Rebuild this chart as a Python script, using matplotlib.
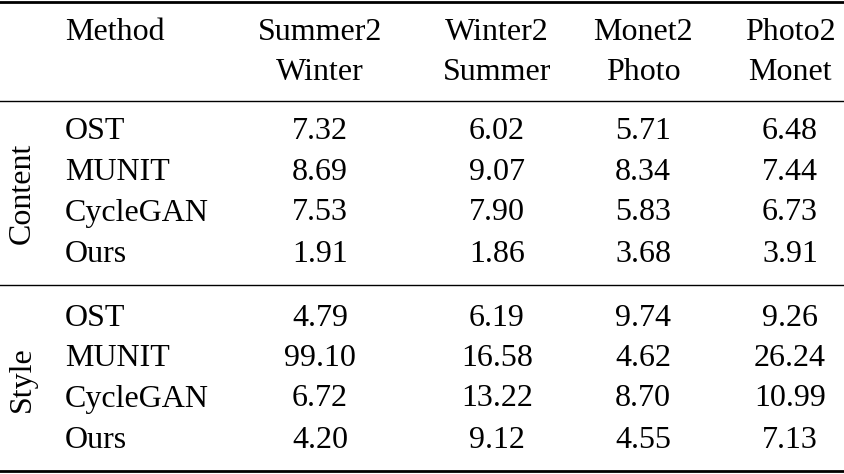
import matplotlib.pyplot as plt
from matplotlib.lines import Line2D

plt.rcParams['font.family'] = ['Liberation Serif', 'DejaVu Serif']

columns = ["Summer2\nWinter", "Winter2\nSummer", "Monet2\nPhoto", "Photo2\nMonet"]
methods = ["OST", "MUNIT", "CycleGAN", "Ours"]
groups = ["Content", "Style"]
content_vals = [
    ["7.32", "6.02", "5.71", "6.48"],
    ["8.69", "9.07", "8.34", "7.44"],
    ["7.53", "7.90", "5.83", "6.73"],
    ["1.91", "1.86", "3.68", "3.91"],
]
style_vals = [
    ["4.79", "6.19", "9.74", "9.26"],
    ["99.10", "16.58", "4.62", "26.24"],
    ["6.72", "13.22", "8.70", "10.99"],
    ["4.20", "9.12", "4.55", "7.13"],
]

W, H = 845, 474
fig = plt.figure(figsize=(W / 100, H / 100), dpi=100)
fs = 23

def px(x, y):
    return x / W, 1 - y / H

def hline(y, lw):
    fig.add_artist(Line2D([0, 1], [1 - y / H] * 2, color='black', lw=lw,
                          transform=fig.transFigure))

col_x = [320, 497, 643, 790]
method_x = 65

hline(2, 2.0)
hline(101, 1.0)
hline(285, 1.0)
hline(471, 2.0)

fig.text(*px(method_x, 32), "Method", fontsize=fs, ha='left', va='center')
for cx, name in zip(col_x, columns):
    top, bot = name.split("\n")
    fig.text(*px(cx, 32), top, fontsize=fs, ha='center', va='center')
    fig.text(*px(cx, 73), bot, fontsize=fs, ha='center', va='center')

row_y = [[132, 172, 213, 254], [318, 358, 399, 440]]
group_y = [193, 379]
for g, vals, ys, gy in zip(groups, [content_vals, style_vals], row_y, group_y):
    fig.text(*px(22, gy), g, fontsize=fs, ha='center', va='center', rotation=90)
    for m, row, y in zip(methods, vals, ys):
        fig.text(*px(method_x, y), m, fontsize=fs, ha='left', va='center')
        for cx, v in zip(col_x, row):
            fig.text(*px(cx, y), v, fontsize=fs, ha='center', va='center')

fig.savefig("out.png", dpi=100)
